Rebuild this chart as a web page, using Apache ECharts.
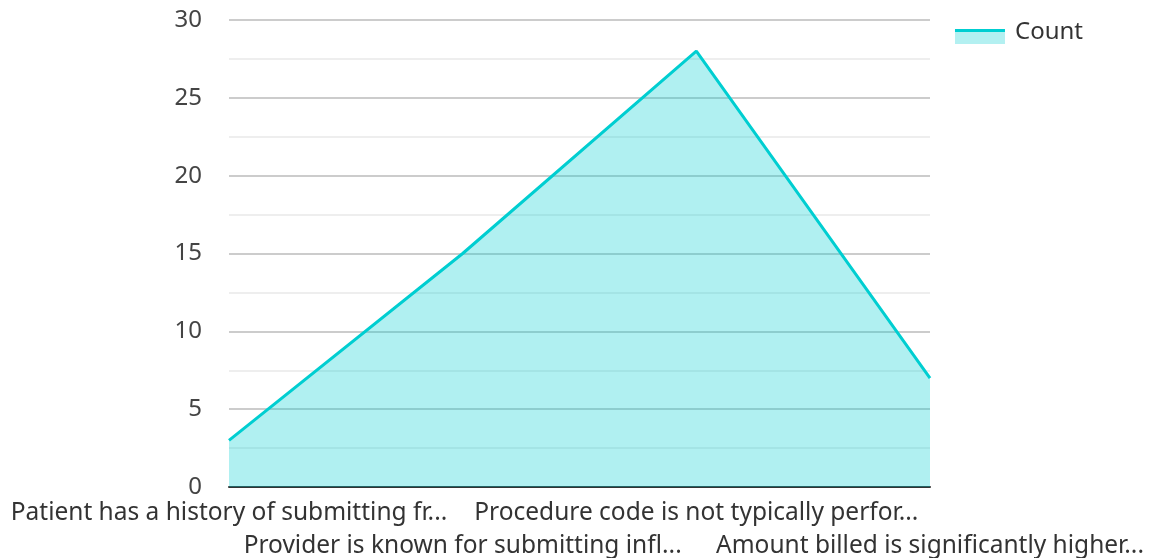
<!DOCTYPE html>
<html>
<head>
<meta charset="utf-8">
<script src="https://cdn.jsdelivr.net/npm/echarts@6/dist/echarts.min.js"></script>
<style>
  html, body { margin: 0; padding: 0; background: #fff; }
  #chart { width: 1151px; height: 558px; }
</style>
</head>
<body>
<div id="chart"></div>
<script>
// Fraud-indicator reasons and how often each was flagged
const categories = [
  'Patient has a history of submitting fr...',
  'Provider is known for submitting infl...',
  'Procedure code is not typically perfor...',
  'Amount billed is significantly higher...'
];
const counts = [3, 15, 28, 7];
const seriesName = 'Count';

const lineColor = '#00CED1';
const areaColor = 'rgba(0, 206, 209, 0.31)';
const fontFamily = '"Noto Sans", "Open Sans", sans-serif';

const chart = echarts.init(document.getElementById('chart'));
chart.setOption({
  animation: false,
  textStyle: { fontFamily: fontFamily },
  grid: {
    left: 229, right: 221, top: 20, bottom: 71,
    containLabel: false,
    outerBoundsMode: 'none'
  },
  legend: {
    right: 63,
    top: 15,
    itemWidth: 50,
    itemHeight: 15,
    icon: 'rect',
    formatter: '{t|{name}}',
    textStyle: {
      fontSize: 24, color: '#333', fontFamily: fontFamily,
      rich: {
        t: { fontSize: 24, color: '#333', fontFamily: fontFamily, padding: [0, 0, 9, 5] }
      }
    },
    data: [{
      name: seriesName,
      itemStyle: {
        color: {
          type: 'linear', x: 0, y: 0, x2: 0, y2: 1,
          colorStops: [
            { offset: 0, color: lineColor },
            { offset: 0.22, color: lineColor },
            { offset: 0.22, color: '#b3f0f1' },
            { offset: 1, color: '#b3f0f1' }
          ]
        }
      }
    }]
  },
  xAxis: {
    type: 'category',
    data: categories,
    boundaryGap: false,
    axisLine: { lineStyle: { color: '#333', width: 2 } },
    axisTick: { show: false },
    axisLabel: {
      interval: 0,
      margin: 10,
      fontSize: 24.5,
      color: '#333',
      lineHeight: 33,
      formatter: (value, index) => (index % 2 === 1 ? '\n' + value : value)
    }
  },
  yAxis: {
    type: 'value',
    min: 0,
    max: 30,
    interval: 5,
    axisLine: { show: false },
    axisTick: { show: false },
    axisLabel: { fontSize: 24, color: '#444', margin: 27 },
    splitLine: { lineStyle: { color: '#cccccc', width: 2 } },
    minorTick: { show: false, splitNumber: 2 },
    minorSplitLine: { show: true, lineStyle: { color: '#eeeeee', width: 2 } }
  },
  series: [{
    name: seriesName,
    type: 'line',
    data: counts,
    symbol: 'none',
    lineStyle: { color: lineColor, width: 3 },
    itemStyle: { color: lineColor },
    areaStyle: { color: areaColor, opacity: 1 }
  }]
});
</script>
</body>
</html>
